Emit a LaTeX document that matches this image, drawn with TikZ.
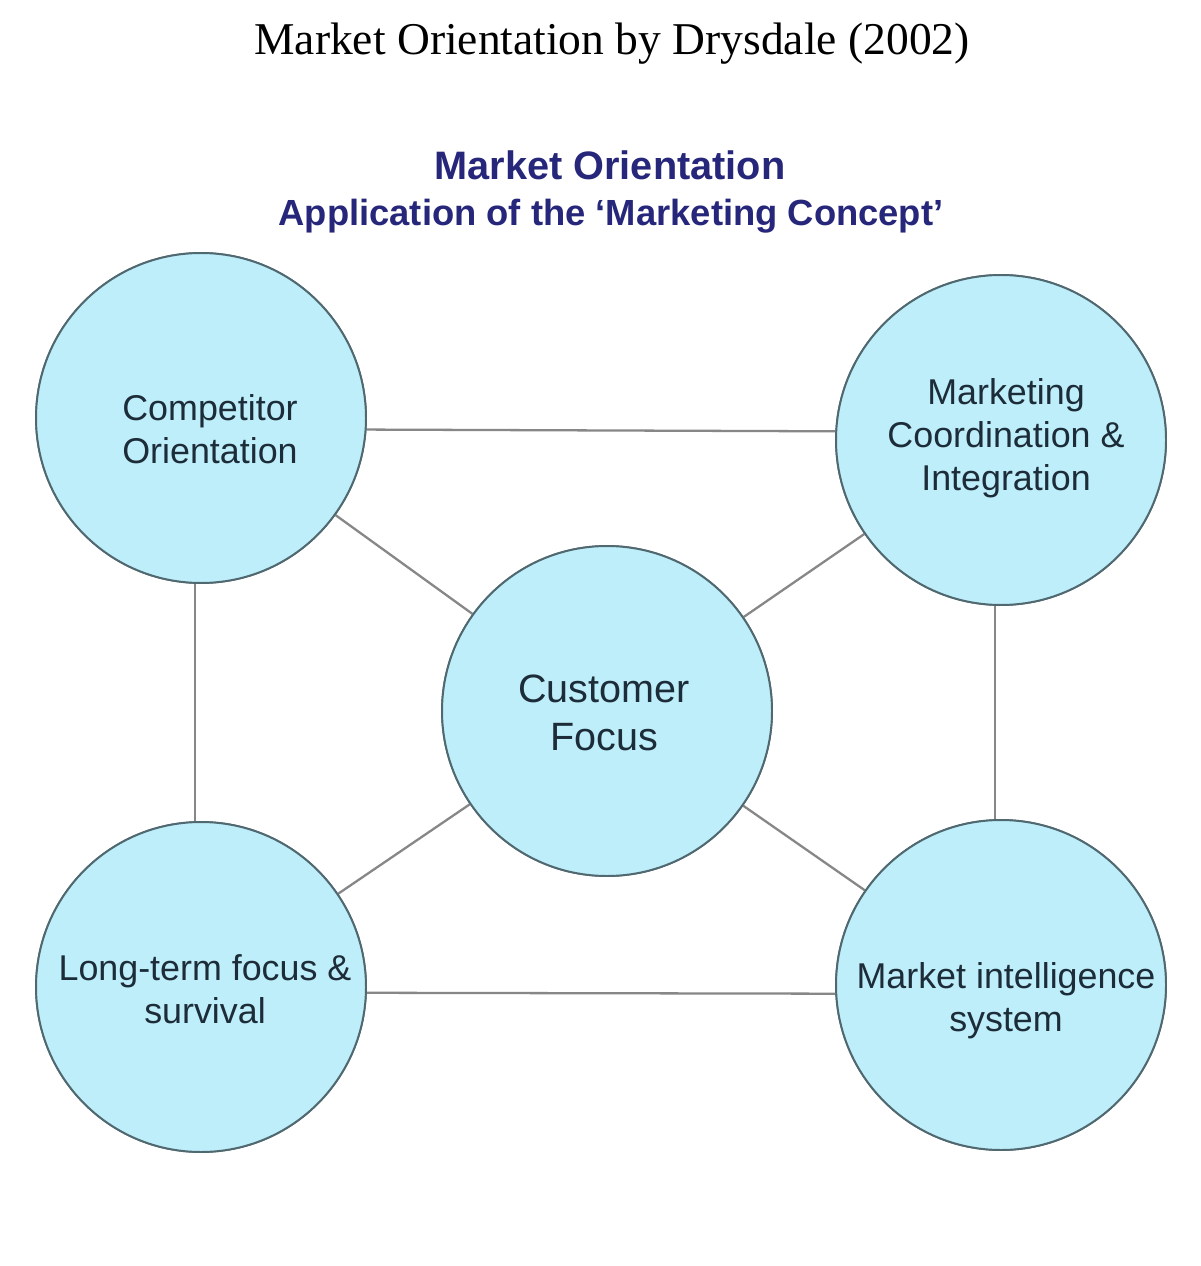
\documentclass[tikz,border=0pt]{standalone}
\usepackage{fontspec}
\setmainfont{Liberation Serif}
\newfontfamily\arial{Liberation Sans}
\definecolor{fillc}{RGB}{190,238,250}
\definecolor{edgec}{RGB}{80,104,112}
\definecolor{linec}{RGB}{135,135,135}
\definecolor{txtc}{RGB}{28,44,56}
\definecolor{headc}{RGB}{38,38,122}
\begin{document}
\begin{tikzpicture}[x=0.02cm,y=-0.02cm,
  bubble/.style={circle,draw=edgec,line width=1.1pt,fill=fillc,minimum size=6.6cm,inner sep=0pt},
  lbl/.style={align=center,text=txtc,font=\arial\fontsize{20.4pt}{24.4pt}\selectfont,inner sep=0pt},
  link/.style={draw=linec,line width=1.3pt}]
\useasboundingbox[fill=white] (0,0) rectangle (1200,1266);
\node[anchor=base,font=\fontsize{25.9pt}{30pt}\selectfont,inner sep=0pt] (title) at (612,55) {Market Orientation by Drysdale (2002)};
\node[anchor=base,text=headc,font=\arial\bfseries\fontsize{22.6pt}{26pt}\selectfont,inner sep=0pt] (head1) at (610,180) {Market Orientation};
\node[anchor=base,text=headc,font=\arial\bfseries\fontsize{20.7pt}{24pt}\selectfont,inner sep=0pt] (head2) at (611,226) {Application of the ‘Marketing Concept’};
% circles
\node[bubble] (comp) at (201,418) {};
\node[bubble] (mci) at (1001,440) {};
\node[bubble] (cust) at (607,711) {};
\node[bubble] (long) at (201,987) {};
\node[bubble] (intel) at (1001,985) {};
% connectors (behind circles drawn again after)
\begin{scope}[on background layer/.try]
\end{scope}
\path[link] (comp.-4.9) -- (mci.177.2);
\path[link] (long.-2.8) -- (intel.183.5);
\path[link] (comp.-92.8) -- (long.92.8);
\path[link] (mci.-92.8) -- (intel.92.8);
\path[link] (comp) -- (cust);
\path[link] (mci) -- (cust);
\path[link] (long) -- (cust);
\path[link] (intel) -- (cust);
% redraw circles on top
\node[bubble] at (comp) {};
\node[bubble] at (mci) {};
\node[bubble] at (cust) {};
\node[bubble] at (long) {};
\node[bubble] at (intel) {};
% labels
\node[lbl] (tcomp) at (210,429) {Competitor\\Orientation};
\node[lbl] (tmci) at (1006,438) {Marketing\\Coordination \&\\Integration};
\node[lbl,font=\arial\fontsize{22.5pt}{27.2pt}\selectfont] (tcust) at (604,713) {Customer\\Focus};
\node[lbl] (tlong) at (205,989) {Long-term focus \&\\survival};
\node[lbl] (tintel) at (1006,1001) {Market intelligence\\system};
\end{tikzpicture}
\end{document}
